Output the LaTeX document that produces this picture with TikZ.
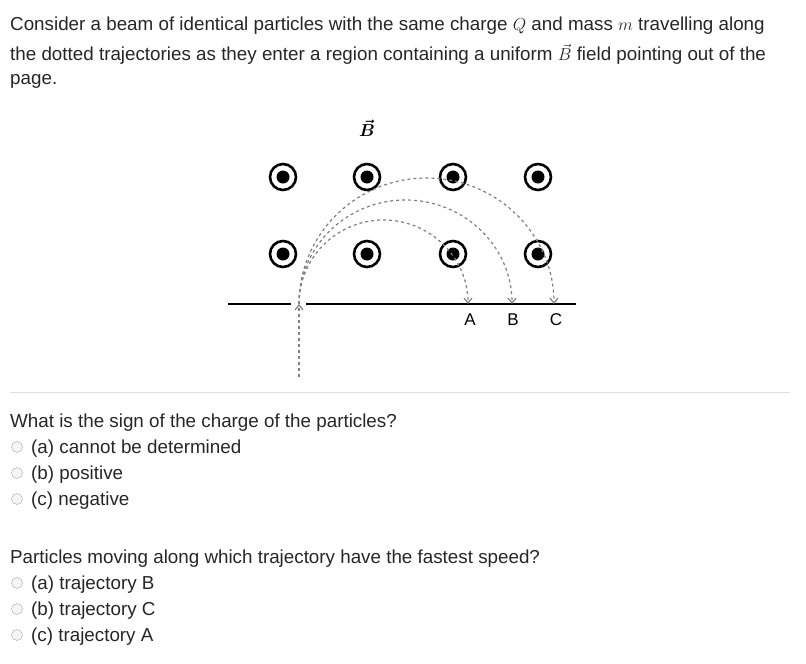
\documentclass[tikz,border=0pt]{standalone}
\usepackage{fontspec}
\setmainfont{Liberation Sans}
\usepackage{amsmath}
\usetikzlibrary{arrows.meta}
\begin{document}
\begin{tikzpicture}[x=1pt,y=-1pt,
  txt/.style={anchor=west,inner sep=0pt,font=\fontsize{18.8}{22}\selectfont,text=black!85},
  bdot/.style={circle,draw=black,line width=2.6pt,minimum size=26pt,inner sep=0pt,
     path picture={\fill[black] (path picture bounding box.center) circle (6.5pt);}},
  traj/.style={draw=black!50,dashed,line width=1.2pt,-{Straight Barb[length=5pt,width=8pt]}},
  radio/.style={circle,draw=black!35,fill=black!4,minimum size=11pt,inner sep=0pt},
  lbl/.style={font=\fontsize{17}{20}\selectfont,inner sep=0pt}]
\useasboundingbox (0,0) rectangle (806,664);
\node[txt] (t1) at (10,26) {Consider a beam of identical particles with the same charge $Q$ and mass $m$ travelling along};
\node[txt] (t2) at (10,54) {the dotted trajectories as they enter a region containing a uniform $\vec{B}$ field pointing out of the};
\node[txt] (t3) at (10,81) {page.};
\node[inner sep=0pt] (Bl) at (367,128) {\fontsize{17}{20}\selectfont$\boldsymbol{\vec{B}}$};
\foreach \x/\n in {283/1,367/2,453/3,538/4}{
  \node[bdot] (u\n) at (\x,177) {};
  \node[bdot] (d\n) at (\x,254) {};
}
\draw[line width=2.2pt] (228,304) -- (291,304);
\draw[line width=2.2pt] (306,304) -- (576,304);
\coordinate (s) at (299,377);
\coordinate (e) at (299,304);
\draw[traj] (s) -- (e);
\draw[traj] (e) arc[start angle=180,end angle=0,x radius=84.5,y radius=-84] coordinate (A);
\draw[traj] (e) arc[start angle=180,end angle=0,x radius=106.5,y radius=-104] coordinate (B);
\draw[traj] (e) arc[start angle=180,end angle=0,x radius=127.5,y radius=-126] coordinate (C);
\node[lbl] (la) at (470,320) {A};
\node[lbl] (lb) at (513,320) {B};
\node[lbl] (lc) at (556,320) {C};
\draw[black!12,line width=0.8pt] (10,392) -- (790,392);
\node[txt] (q1) at (10,423) {What is the sign of the charge of the particles?};
\node[radio] (r1) at (17,447) {}; \node[txt] (o1) at (31,449) {(a) cannot be determined};
\node[radio] (r2) at (17,473) {}; \node[txt] (o2) at (31,475) {(b) positive};
\node[radio] (r3) at (17,499) {}; \node[txt] (o3) at (31,501) {(c) negative};
\node[txt] (q2) at (10,559) {Particles moving along which trajectory have the fastest speed?};
\node[radio] (r4) at (17,583) {}; \node[txt] (o4) at (31,585) {(a) trajectory B};
\node[radio] (r5) at (17,609) {}; \node[txt] (o5) at (31,611) {(b) trajectory C};
\node[radio] (r6) at (17,635) {}; \node[txt] (o6) at (31,637) {(c) trajectory A};
\end{tikzpicture}
\end{document}
